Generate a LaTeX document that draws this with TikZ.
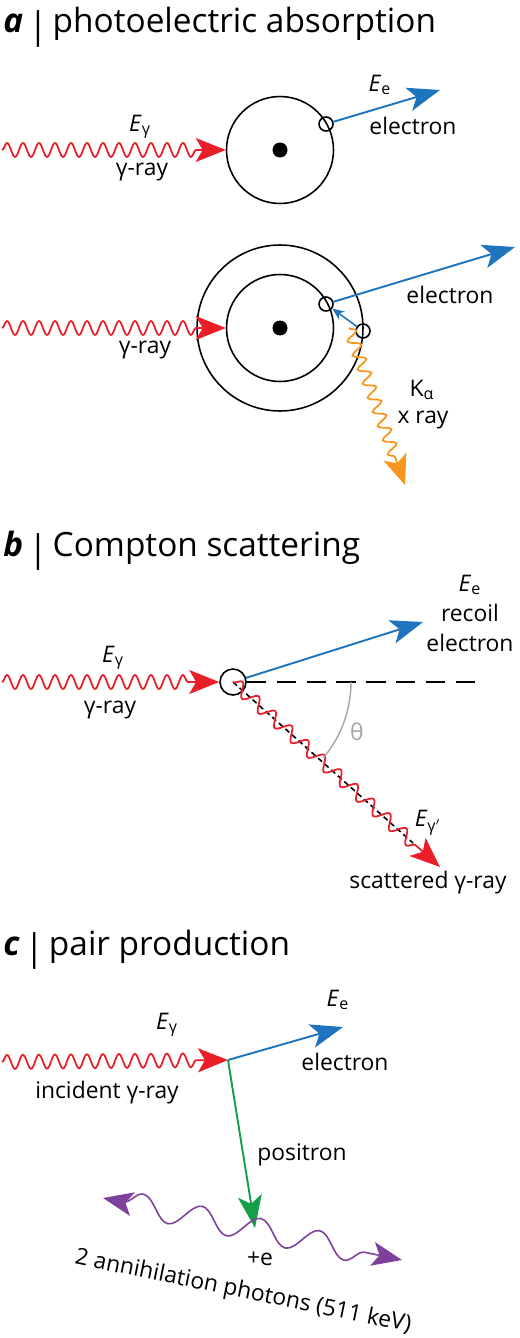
\documentclass[tikz,border=0pt]{standalone}
\usepackage{fontspec}
\setmainfont{Open Sans}
\usetikzlibrary{arrows.meta, positioning, decorations.pathmorphing}

\definecolor{rayred}{RGB}{232,30,40}
\definecolor{elblue}{RGB}{30,117,190}
\definecolor{xorange}{RGB}{246,150,30}
\definecolor{posgreen}{RGB}{20,160,75}
\definecolor{annpurple}{RGB}{125,65,155}

\newcommand{\Eg}{\textit{E}\textsubscript{γ}}
\newcommand{\Ee}{\textit{E}\textsubscript{e}}
\newcommand{\pbar}{\raisebox{-0.15em}{\scalebox{1}[1.1]{|}}}

\begin{document}
\begin{tikzpicture}[
        x=0.02cm, y=-0.02cm,
        every node/.style={font=\fontsize{13}{15}\selectfont, inner sep=0pt},
        paneltitle/.style={anchor=base west, font=\fontsize{19}{22}\selectfont},
        shell/.style={circle, draw, line width=0.9pt},
        nucleus/.style={circle, fill, minimum size=0.3cm},
        ecirc/.style={circle, draw, line width=0.9pt, minimum size=0.28cm},
        redwave/.style={draw=rayred, line width=1pt, -{Stealth[length=6mm, width=4.8mm, inset=1.4mm]},
            decorate, decoration={snake, amplitude=1.4mm, segment length=3.2mm, post length=5mm}},
        eline/.style={draw=elblue, line width=1.1pt, -{Stealth[length=6.5mm, width=4.8mm, inset=1.6mm]}}
    ]
    \useasboundingbox (0,0) rectangle (520,1338);

    % a | photoelectric absorption
    \node[paneltitle] (ta) at (3,33) {{\bfseries\itshape a}\,\pbar\,photoelectric absorption};

    \node[shell, minimum size=2.14cm] (atomA) at (280,150) {};
    \node[nucleus] (nucA) at (280,150) {};
    \node[ecirc] (eA) at (326,124) {};
    \coordinate (inA) at (2,150);
    \coordinate (eAend) at (440,90);
    \draw[redwave] (inA) -- (atomA.west);
    \draw[eline] (eA) -- (eAend);
    \node (EgA) at (140,127) {\Eg};
    \node (grA) at (142,172) {γ-ray};
    \node (EeA) at (380,85) {\Ee};
    \node (elA) at (413,126) {electron};

    \node[shell, minimum size=3.32cm] (outerB) at (280,328) {};
    \node[shell, minimum size=2.14cm] (atomB) at (280,328) {};
    \node[nucleus] (nucB) at (280,328) {};
    \node[ecirc] (eB1) at (326,304) {};
    \node[ecirc] (eB2) at (363,331) {};
    \coordinate (inB) at (2,328);
    \coordinate (eBend) at (515,247);
    \coordinate (xrStart) at (349,328);
    \coordinate (xrEnd) at (405,485);
    \draw[redwave] (inB) -- (atomB.west);
    \draw[eline] (eB1) -- (eBend);
    \draw[draw=elblue, line width=0.9pt, -{Stealth[length=2.4mm, width=2mm]}] (eB2) -- (eB1);
    \draw[draw=xorange, line width=1pt, -{Stealth[length=6mm, width=4.8mm, inset=1.4mm]},
        decorate, decoration={snake, amplitude=1.2mm, segment length=3mm, post length=5mm}] (xrStart) -- (xrEnd);
    \node (grB) at (145,350) {γ-ray};
    \node (elB) at (450,295) {electron};
    \node (Ka) at (422,390) {K\textsubscript{α}};
    \node (xr) at (423,420) {x ray};

    % b | Compton scattering
    \node[paneltitle] (tb) at (3,556) {{\bfseries\itshape b}\,\pbar\,Compton scattering};

    \node[ecirc, minimum size=0.52cm] (cb) at (233,682) {};
    \coordinate (inC) at (2,682);
    \coordinate (recoilEnd) at (423,622);
    \coordinate (dashEnd) at (482,682);
    \coordinate (scatDash) at (413,843);
    \coordinate (scatEnd) at (440,867);
    \draw[redwave] (inC) -- (cb.west);
    \draw[eline] (cb) -- (recoilEnd);
    \draw[line width=1.1pt, dash pattern=on 11pt off 6pt] (cb.east) -- (dashEnd);
    \draw[line width=0.9pt, dash pattern=on 3pt off 2pt] (cb.center) -- (scatDash);
    \draw[redwave, decoration={snake, amplitude=1.3mm, segment length=4.4mm, post length=5mm}] (cb.center) -- (scatEnd);
    \draw[gray!70, line width=0.8pt] (cb.center) ++(118,0) arc[start angle=0, end angle=40, radius=118];
    \node (EgB) at (113,658) {\Eg};
    \node (grC) at (110,710) {γ-ray};
    \node (EeB) at (470,585) {\Ee};
    \node (rec) at (470,613) {recoil};
    \node (elC) at (470,643) {electron};
    \node[text=gray!70] (th) at (357,732) {θ};
    \node (Egp) at (428,823) {\textit{E}\textsubscript{γ$'$}};
    \node (sgr) at (428,883) {scattered γ-ray};

    % c | pair production
    \node[paneltitle] (tc) at (3,955) {{\bfseries\itshape c}\,\pbar\,pair production};

    \coordinate (vc) at (228,1060);
    \coordinate (inD) at (2,1062);
    \coordinate (eCend) at (343,1027);
    \coordinate (posEnd) at (255,1228);
    \coordinate (annL) at (103,1198);
    \coordinate (annR) at (402,1260);
    \draw[redwave] (inD) -- (vc);
    \draw[eline] (vc) -- (eCend);
    \draw[draw=posgreen, line width=1.1pt, -{Stealth[length=6.5mm, width=4.8mm, inset=1.6mm]}] (vc) -- (posEnd);
    \draw[draw=annpurple, line width=0.9pt, {Stealth[length=6mm, width=4.8mm, inset=1.4mm]}-{Stealth[length=6mm, width=4.8mm, inset=1.4mm]},
        decorate, decoration={snake, amplitude=2.4mm, segment length=1.2cm, pre length=4mm, post length=4mm}] (annL) -- (annR);
    \node (EgC) at (167,1025) {\Eg};
    \node (inc) at (107,1093) {incident γ-ray};
    \node (EeC) at (338,1000) {\Ee};
    \node (elD) at (345,1062) {electron};
    \node (pos) at (302,1155) {positron};
    \node (pe) at (260,1259) {+e};
    \node[rotate=-11.5] (ann) at (243,1292) {2 annihilation photons (511 keV)};
\end{tikzpicture}
\end{document}
